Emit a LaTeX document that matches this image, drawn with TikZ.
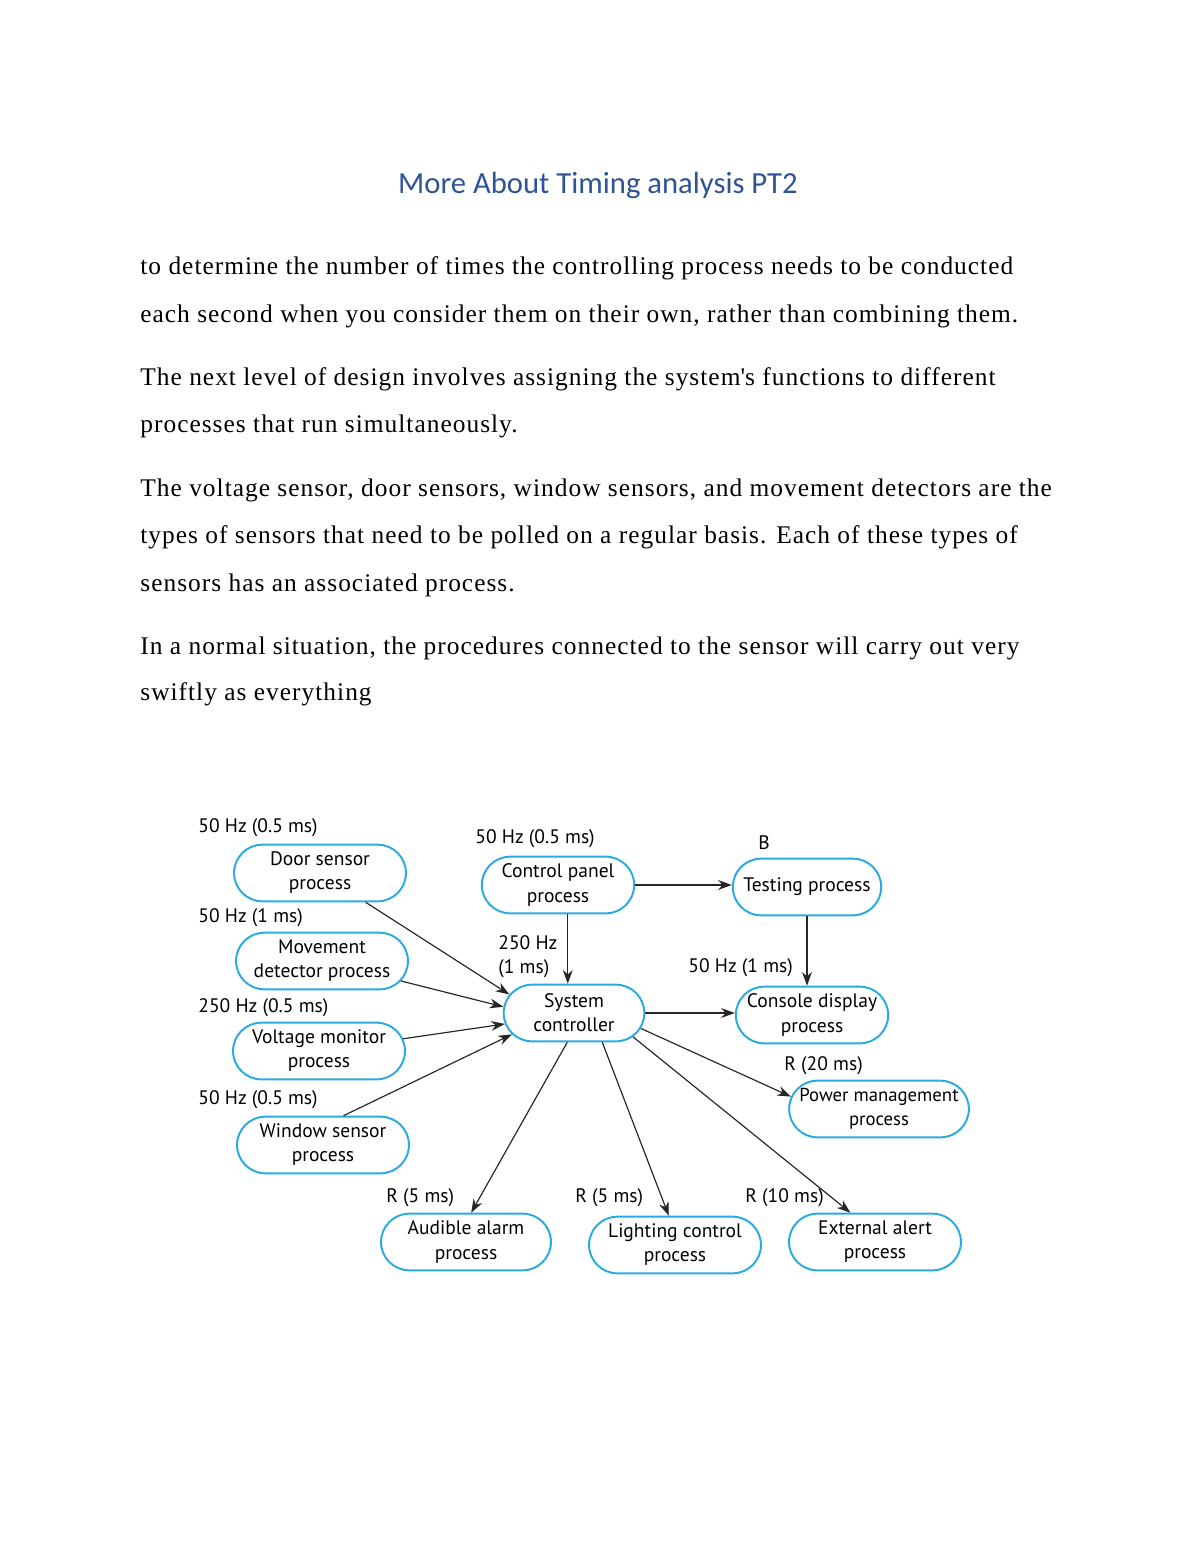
\documentclass[tikz,border=0pt]{standalone}
\usepackage{fontspec}
\setmainfont{Liberation Serif}
\newfontfamily\titlefont{Carlito}
\newfontfamily\diagfont{PT Sans}
\usetikzlibrary{shapes.misc,arrows.meta}
\definecolor{titleblue}{HTML}{2F5496}
\definecolor{boxcyan}{HTML}{29ABE2}
\begin{document}
\begin{tikzpicture}[x=0.5119pt,y=-0.5119pt,
   proc/.style={shape=rounded rectangle,draw=boxcyan,line width=1pt,fill=white,
      minimum height=29pt,minimum width=92pt,inner sep=2pt,align=center,
      font=\diagfont\fontsize{10}{12.3}\selectfont},
   rate/.style={anchor=west,inner sep=0pt,font=\diagfont\fontsize{10}{12.3}\selectfont},
   arr/.style={-{Stealth[length=7pt,width=5pt]},draw=black!85,line width=0.6pt},
   line/.style={anchor=base west,inner sep=0pt,
      font=\fontsize{13}{15}\selectfont\addfontfeature{LetterSpace=4}}]
   \useasboundingbox[fill=white] (0,0) rectangle (1200,1553);

   % heading and text
   \node[inner sep=0pt,text=titleblue,font=\titlefont\fontsize{15.7}{19}\selectfont] (title) at (598,185) {More About Timing analysis PT2};

   \node[line] (l1) at (140,275) {to determine the number of times the controlling process needs to be conducted};
   \node[line] (l2) at (140,323) {each second when you consider them on their own, rather than combining them.};
   \node[line] (l3) at (140,386) {The next level of design involves assigning the system\textquotesingle s functions to different};
   \node[line] (l4) at (140,433) {processes that run simultaneously.};
   \node[line] (l5) at (140,496) {The voltage sensor, door sensors, window sensors, and movement detectors are the};
   \node[line] (l6) at (140,543) {types of sensors that need to be polled on a regular basis. Each of these types of};
   \node[line] (l7) at (140,591) {sensors has an associated process.};
   \node[line] (l8) at (140,654) {In a normal situation, the procedures connected to the sensor will carry out very};
   \node[line] (l9) at (140,700) {swiftly as everything};

   % processes
   \node[proc] (door) at (320,873) {Door sensor\\process};
   \node[proc] (move) at (322,961) {Movement\\detector process};
   \node[proc] (volt) at (319,1051) {Voltage monitor\\process};
   \node[proc] (win) at (323,1145) {Window sensor\\process};
   \node[proc,minimum width=82pt] (cp) at (558,885) {Control panel\\process};
   \node[proc,minimum width=80pt] (test) at (807,887) {Testing process};
   \node[proc,minimum width=76pt] (sys) at (574,1013) {System\\controller};
   \node[proc,minimum width=82pt] (con) at (812,1015) {Console display\\process};
   \node[proc,inner xsep=0pt,font=\diagfont\fontsize{9.6}{12.3}\selectfont] (pow) at (879,1109) {Power management\\process};
   \node[proc,minimum width=91pt] (aud) at (466,1242) {Audible alarm\\process};
   \node[proc] (light) at (675,1245) {Lighting control\\process};
   \node[proc] (ext) at (875,1242) {External alert\\process};

   % rates
   \node[rate] (rdoor) at (198,828) {50 Hz (0.5 ms)};
   \node[rate] (rmove) at (198,918) {50 Hz (1 ms)};
   \node[rate] (rvolt) at (198,1008) {250 Hz (0.5 ms)};
   \node[rate] (rwin) at (198,1100) {50 Hz (0.5 ms)};
   \node[rate] (rcp) at (475,839) {50 Hz (0.5 ms)};
   \node[rate] (rtest) at (758,843) {B};
   \node[rate,align=left] (rsys) at (498,957) {250 Hz\\(1 ms)};
   \node[rate] (rcon) at (688,968) {50 Hz (1 ms)};
   \node[rate] (rpow) at (784,1066) {R (20 ms)};
   \node[rate] (raud) at (386,1198) {R (5 ms)};
   \node[rate] (rlight) at (575,1198) {R (5 ms)};
   \node[rate] (rext) at (745,1198) {R (10 ms)};

   % connections
   \draw[arr] (door) -- (sys.164);
   \draw[arr] (move) -- (sys.175);
   \draw[arr] (volt) -- (sys.189);
   \draw[arr] (win.55) -- (sys.199);
   \draw[arr] ([xshift=5pt]cp.south) -- ([xshift=5pt]cp.south |- sys.north);
   \draw[arr] (cp.east) -- (cp.east -| test.west);
   \draw[arr] (test.south) -- (test.south |- con.north);
   \draw[arr] (sys.east) -- (sys.east -| con.west);
   \draw[arr] (sys.-13) -- (pow.172);
   \draw[arr] (sys.-22) -- (ext.130);
   \draw[arr] (sys.-46) -- (light.102);
   \draw[arr] (sys.-103) -- (aud.80);
\end{tikzpicture}
\end{document}
